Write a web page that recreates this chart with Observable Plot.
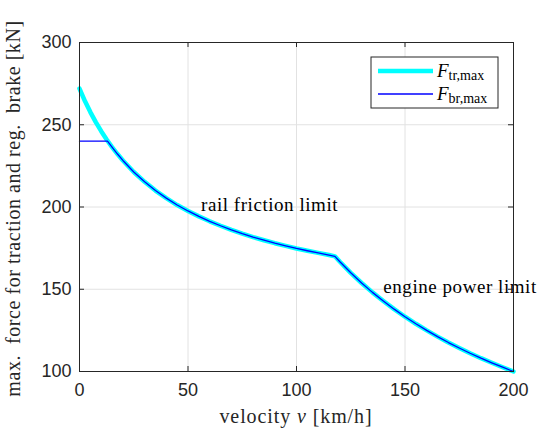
<!DOCTYPE html>
<html><head><meta charset="utf-8">
<script src="https://cdn.jsdelivr.net/npm/d3@7"></script>
<script src="https://cdn.jsdelivr.net/npm/@observablehq/plot@0.6"></script>
<style>body{margin:0;background:#fff} svg{display:block}</style>
</head><body><div id="chart"></div>
<script>
// velocity [km/h] and max traction force [kN]
const velocity = [0,2.5,5,7.5,10,12.5,15,17.5,20,25,30,35,40,45,50,55,60,65,70,75,80,85,90,95,100,105,110,115,117.7,120,125,130,135,140,145,150,155,160,165,170,175,180,185,190,195,200];
const tractionForce = [272,264.4,257.7,251.6,246.1,241.0,236.4,232.2,228.3,221.3,215.3,210.0,205.4,201.2,197.6,194.3,191.3,188.6,186.1,183.8,181.7,179.8,178.0,176.4,174.8,173.4,172.1,170.8,170.0,166.7,160.0,153.8,148.1,142.9,137.9,133.3,129.0,125.0,121.2,117.6,114.3,111.1,108.1,105.3,102.6,100.0];
// regenerative brake force [kN]
const brakeVelocity = [0,12.9,15,17.5,20,25,30,35,40,45,50,55,60,65,70,75,80,85,90,95,100,105,110,115,117.7,120,125,130,135,140,145,150,155,160,165,170,175,180,185,190,195,200];
const brakeForce = [240,240,236.4,232.2,228.3,221.3,215.3,210.0,205.4,201.2,197.6,194.3,191.3,188.6,186.1,183.8,181.7,179.8,178.0,176.4,174.8,173.4,172.1,170.8,170.0,166.7,160.0,153.8,148.1,142.9,137.9,133.3,129.0,125.0,121.2,117.6,114.3,111.1,108.1,105.3,102.6,100.0];
const xTicks = [0,50,100,150,200];
const yTicks = [100,150,200,250,300];
const xGrid = [50,100,150];
const yGrid = [150,200,250];
const annotationV = [56,140];
const annotationF = [200.3,150];
const annotationText = ["rail friction limit","engine power limit"];

const W=550,H=440,mL=79,mR=37,mT=42,mB=69;
const fh=H-mT-mB, fw=W-mL-mR;
const traction = velocity.map((v,i)=>({v,f:tractionForce[i]}));
const brake = brakeVelocity.map((v,i)=>({v,f:brakeForce[i]}));
const annotations = annotationV.map((v,i)=>({v,f:annotationF[i],t:annotationText[i]}));
const axisColor="#262626";
const serif="'Liberation Serif','DejaVu Serif',serif";
const sans="'Liberation Sans',Arial,sans-serif";

const chart = Plot.plot({
  width:W,height:H,marginLeft:mL,marginRight:mR,marginTop:mT,marginBottom:mB,
  style:{background:"#fff",fontFamily:sans,fontSize:"18px",color:axisColor},
  x:{domain:[0,200]}, y:{domain:[100,300]},
  marks:[
    Plot.ruleX(xGrid,{x:d=>d,stroke:"#e2e2e2",strokeWidth:1}),
    Plot.ruleY(yGrid,{y:d=>d,stroke:"#e2e2e2",strokeWidth:1}),
    Plot.line(traction,{x:"v",y:"f",stroke:"#00ffff",strokeWidth:4.5}),
    Plot.line(brake,{x:"v",y:"f",stroke:"#0000ff",strokeWidth:1.3}),
    Plot.text(annotations,{x:"v",y:"f",text:"t",textAnchor:"start",fontFamily:serif,fontSize:19,fill:"#000",dy:-2,style:"letter-spacing:0.55px"}),
    Plot.tickX(xTicks,{x:d=>d,stroke:axisColor,insetTop:fh-5}),
    Plot.tickX(xTicks,{x:d=>d,stroke:axisColor,insetBottom:fh-5}),
    Plot.tickY(yTicks,{y:d=>d,stroke:axisColor,insetRight:fw-5}),
    Plot.tickY(yTicks,{y:d=>d,stroke:axisColor,insetLeft:fw-5}),
    Plot.frame({stroke:axisColor,strokeWidth:1}),
    Plot.axisX(xTicks,{tickSize:0,tickPadding:12,label:null,fill:axisColor,fontSize:18}),
    Plot.axisY(yTicks,{tickSize:0,tickPadding:8,label:null,fill:axisColor,fontSize:18})
  ]
});
const svg = d3.select(chart);
svg.selectAll("text").filter(function(){return this.closest("[aria-label='text']");}).style("letter-spacing","0.55px");
// axis labels
const xl = svg.append("text").attr("x",mL+fw/2).attr("y",423).attr("text-anchor","middle")
  .attr("font-family",serif).attr("font-size",20).attr("fill",axisColor).style("letter-spacing","0.9px");
xl.append("tspan").text("velocity ");
xl.append("tspan").attr("font-style","italic").text("v");
xl.append("tspan").text(" [km/h]");
svg.append("text").attr("transform",`translate(20,${mT+fh/2+2}) rotate(-90)`).attr("text-anchor","middle")
  .attr("font-family",serif).attr("font-size",20).attr("fill",axisColor)
  .style("white-space","pre").style("letter-spacing","0.55px")
  .text("max.  force for traction and reg.  brake [kN]");
// legend
const lg = svg.append("g").attr("transform","translate(371,57)");
lg.append("rect").attr("width",127).attr("height",51).attr("fill","#fff").attr("stroke",axisColor).attr("stroke-width",1);
lg.append("line").attr("x1",7).attr("x2",62).attr("y1",14).attr("y2",14).attr("stroke","#00ffff").attr("stroke-width",4.5);
lg.append("line").attr("x1",7).attr("x2",62).attr("y1",37).attr("y2",37).attr("stroke","#0000ff").attr("stroke-width",1.3);
const entries=[["tr,max",20],["br,max",43]];
for(const [sub,y] of entries){
  const t=lg.append("text").attr("x",66).attr("y",y).attr("text-anchor","start")
    .attr("font-family",serif).attr("font-size",19).attr("fill","#000");
  t.append("tspan").attr("font-style","italic").text("F");
  t.append("tspan").attr("font-size",14).attr("dy",3).text(sub);
}
document.getElementById("chart").appendChild(chart);
</script></body></html>
